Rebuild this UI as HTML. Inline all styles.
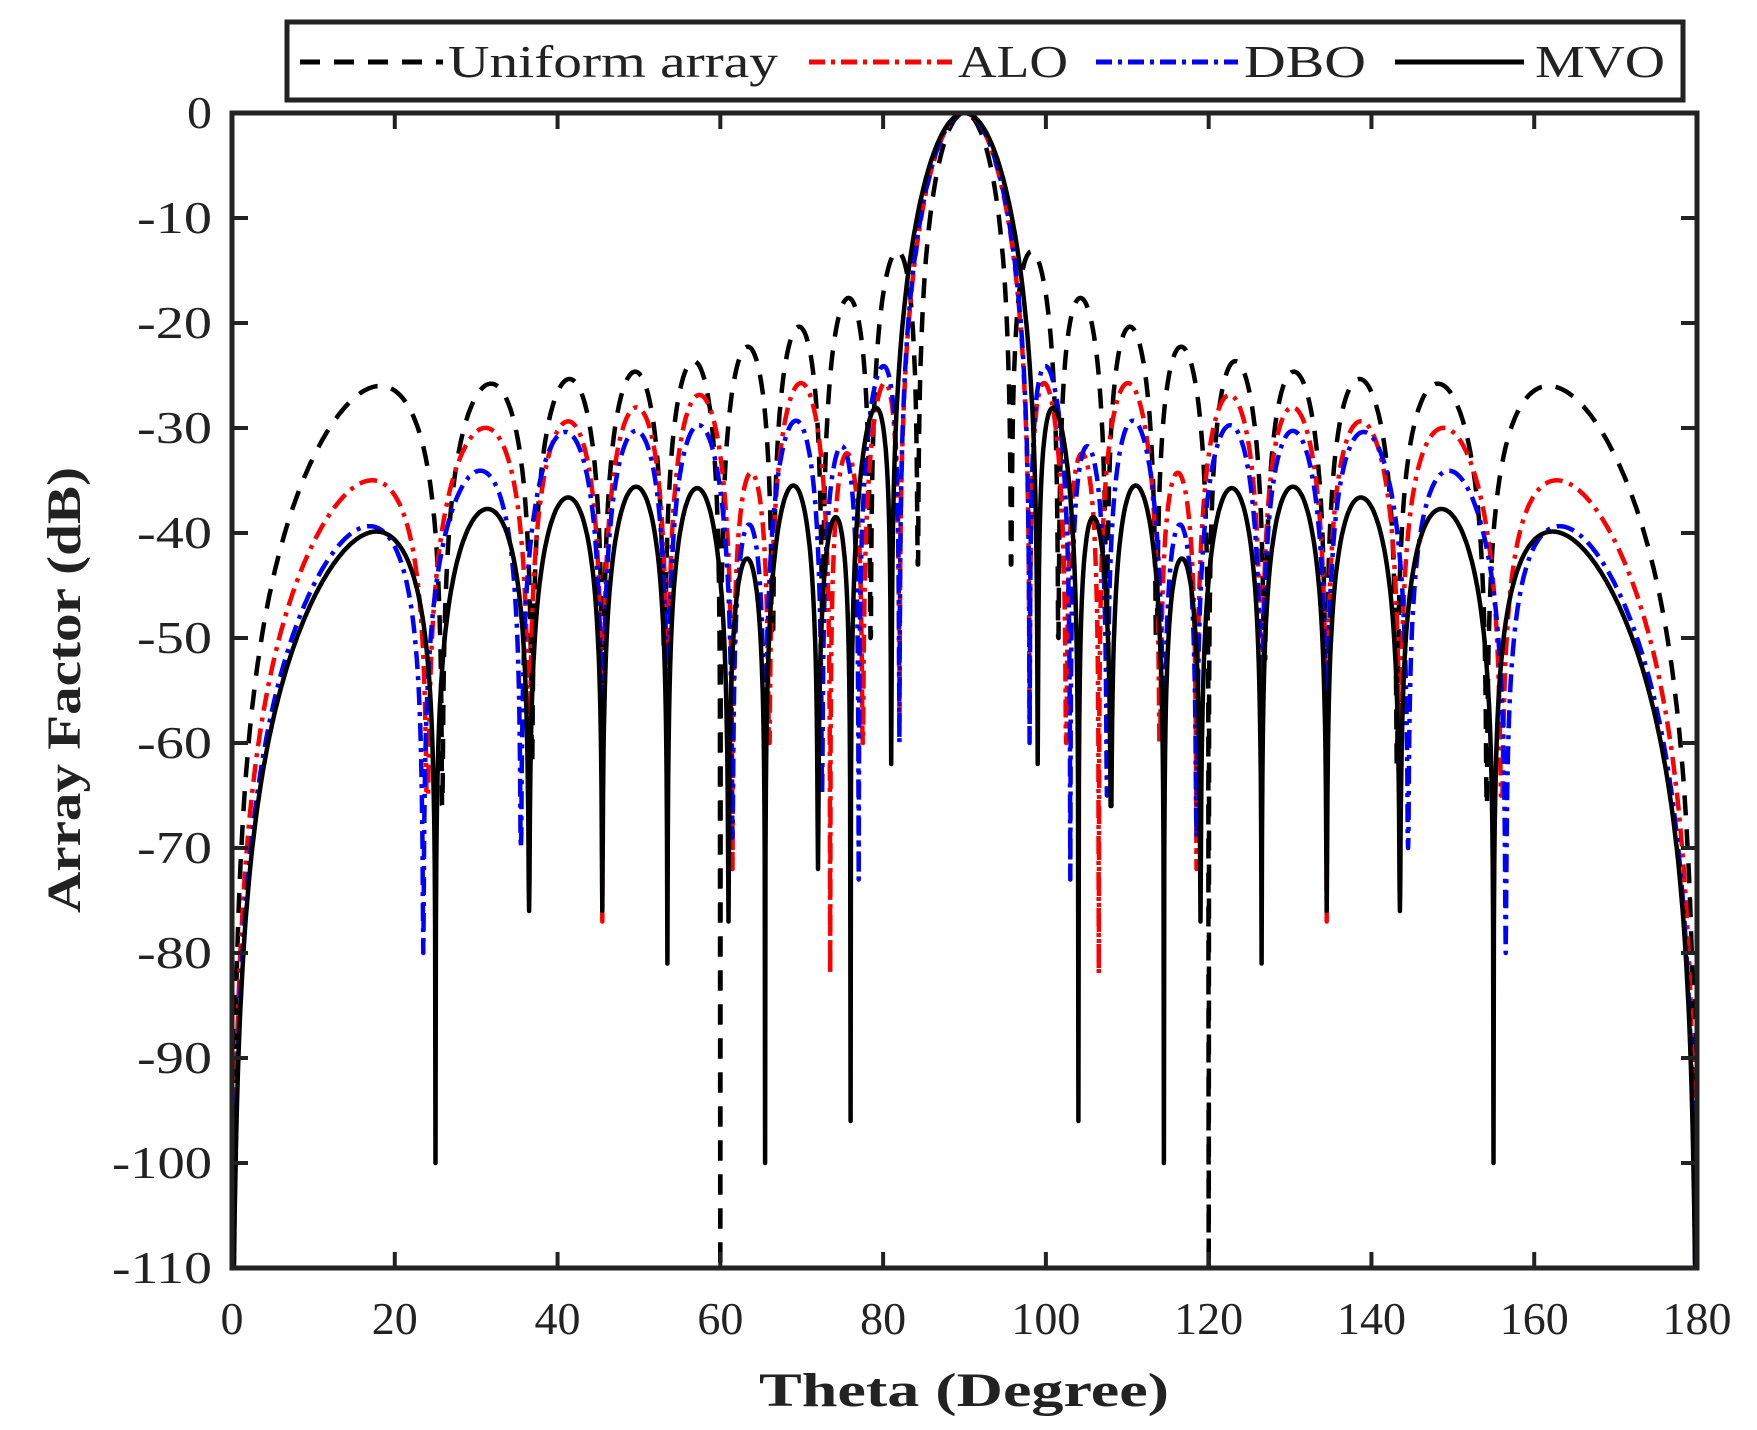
<!DOCTYPE html>
<html><head><meta charset="utf-8"><style>
html,body{margin:0;padding:0;background:#fff}
svg{display:block}
text{font-family:"Liberation Serif",serif;fill:#222}
</style></head><body>
<svg id="s" width="1757" height="1430" viewBox="0 0 1757 1430" xmlns="http://www.w3.org/2000/svg">
<defs><clipPath id="c"><rect x="232" y="113" width="1465" height="1155"/></clipPath></defs>
<g id="curves" clip-path="url(#c)"></g>
<g id="axes"></g>
<rect x="287" y="22" width="1396" height="78" fill="#fff" stroke="#222" stroke-width="5"/>
<line x1="300" y1="62" x2="443" y2="62" stroke="#000" stroke-width="5" stroke-dasharray="20,14"/>
<text x="448" y="77" font-size="46" textLength="330" lengthAdjust="spacingAndGlyphs">Uniform array</text>
<line x1="809" y1="62" x2="952" y2="62" stroke="#f00" stroke-width="5" stroke-dasharray="16,6,4,6"/>
<text x="958" y="77" font-size="46" textLength="110" lengthAdjust="spacingAndGlyphs">ALO</text>
<line x1="1096" y1="62" x2="1238" y2="62" stroke="#00f" stroke-width="5" stroke-dasharray="16,6,4,6"/>
<text x="1244" y="77" font-size="46" textLength="122" lengthAdjust="spacingAndGlyphs">DBO</text>
<line x1="1395" y1="62" x2="1524" y2="62" stroke="#000" stroke-width="5"/>
<text x="1535" y="77" font-size="46" textLength="130" lengthAdjust="spacingAndGlyphs">MVO</text>
<text x="964" y="1406" font-size="48" font-weight="bold" text-anchor="middle" textLength="410" lengthAdjust="spacingAndGlyphs">Theta (Degree)</text>
<text transform="translate(80,690) rotate(-90)" font-size="48" font-weight="bold" text-anchor="middle" textLength="446" lengthAdjust="spacingAndGlyphs">Array Factor (dB)</text>
</svg>
<script>
const L=232,R=1697,T=113,B=1268;
const X=t=>L+(t/180)*(R-L), Y=d=>T+(-d/110)*(B-T);
const NS="http://www.w3.org/2000/svg";
function el(p,tag,a){const e=document.createElementNS(NS,tag);for(const k in a)e.setAttribute(k,a[k]);p.appendChild(e);return e;}
const ax=document.getElementById('axes');
el(ax,'rect',{x:L,y:T,width:R-L,height:B-T,fill:'none',stroke:'#222','stroke-width':5});
for(let v=0;v>=-110;v-=10){const y=Y(v);
 el(ax,'line',{x1:L,y1:y,x2:L+16,y2:y,stroke:'#222','stroke-width':4});
 el(ax,'line',{x1:R,y1:y,x2:R-16,y2:y,stroke:'#222','stroke-width':4});
 const s=String(v);const w=s.length*25;
 const t=el(ax,'text',{x:L-20,y:y+15,'font-size':46,'text-anchor':'end',textLength:w,lengthAdjust:'spacingAndGlyphs'});t.textContent=s;}
for(let v=0;v<=180;v+=20){const x=X(v);
 el(ax,'line',{x1:x,y1:B,x2:x,y2:B-16,stroke:'#222','stroke-width':4});
 el(ax,'line',{x1:x,y1:T,x2:x,y2:T+16,stroke:'#222','stroke-width':4});
 const t=el(ax,'text',{x:x,y:B+66,'font-size':46,'text-anchor':'middle'});t.textContent=v;}
function af(nulls){
 const z=[Math.PI];
 nulls.forEach(n=>{const p=Math.PI*Math.cos(n*Math.PI/180);z.push(p,-p);});
 const f=psi=>{let m=1;for(const q of z){m*=2*Math.abs(Math.sin((psi-q)/2));}return m;};
 const n0=f(0);
 return th=>{const v=f(Math.PI*Math.cos(th*Math.PI/180))/n0;return Math.max(20*Math.log10(v+1e-12),-115);};
}
const uniA=[];for(let m=1;m<=9;m++)uniA.push(Math.acos(m/10)*180/Math.PI);
const uniD={1:-43,2:-50,3:-48,4:-50,5:-115,6:-52,7:-55,8:-62,9:-66};
const uni=uniA.map((a,i)=>[a,uniD[i+1],uniD[i+1]]);
const series=[
 {n:uni,c:'#000',d:'20,14'},
 {n:[[24,-65,-65],[36.5,-75,-75],[45.5,-77,-77],[53.5,-60,-60],[61.5,-72,-72],[66,-60,-60],[73.5,-82,-82],[77.5,-60,-60],[82,-58,-58]],c:'#f00',d:'18,7,4,7'},
 {n:[[23.5,-80,-80],[35.5,-70,-70],[45.5,-64,-64],[53.5,-60,-60],[61.5,-69,-69],[65.5,-67,-67],[72.5,-65,-65],[77,-73,-73],[82,-60,-60]],c:'#00f',d:'18,7,4,7'},
 {n:[[25,-100,-100],[36.5,-76,-76],[45.5,-76,-76],[53.5,-81,-81],[61,-77,-77],[65.5,-100,-100],[72,-72,-66],[76,-96,-96],[81,-62,-62]],c:'#000',d:''}
];
const g=document.getElementById('curves');
series.forEach(s=>{const f=af(s.n.map(q=>q[0]));
 const pts=[];s.n.forEach(q=>{pts.push([q[0],q[1]],[180-q[0],q[2]]);});
 pts.push([0,-115],[180,-115]);
 const floor=t=>{let b=1e9,d=-115;for(const p of pts){const e=Math.abs(p[0]-t);if(e<b){b=e;d=p[1];}}return d;};
 let p='';
 for(let t=0;t<=180.0001;t+=0.05){const v=Math.max(f(t),floor(t));p+=(p?'L':'M')+X(t).toFixed(1)+','+Y(v).toFixed(1);}
 const a={d:p,fill:'none',stroke:s.c,'stroke-width':4.5,'stroke-linejoin':'round'};
 if(s.d)a['stroke-dasharray']=s.d;el(g,'path',a);});
</script>
</body></html>
